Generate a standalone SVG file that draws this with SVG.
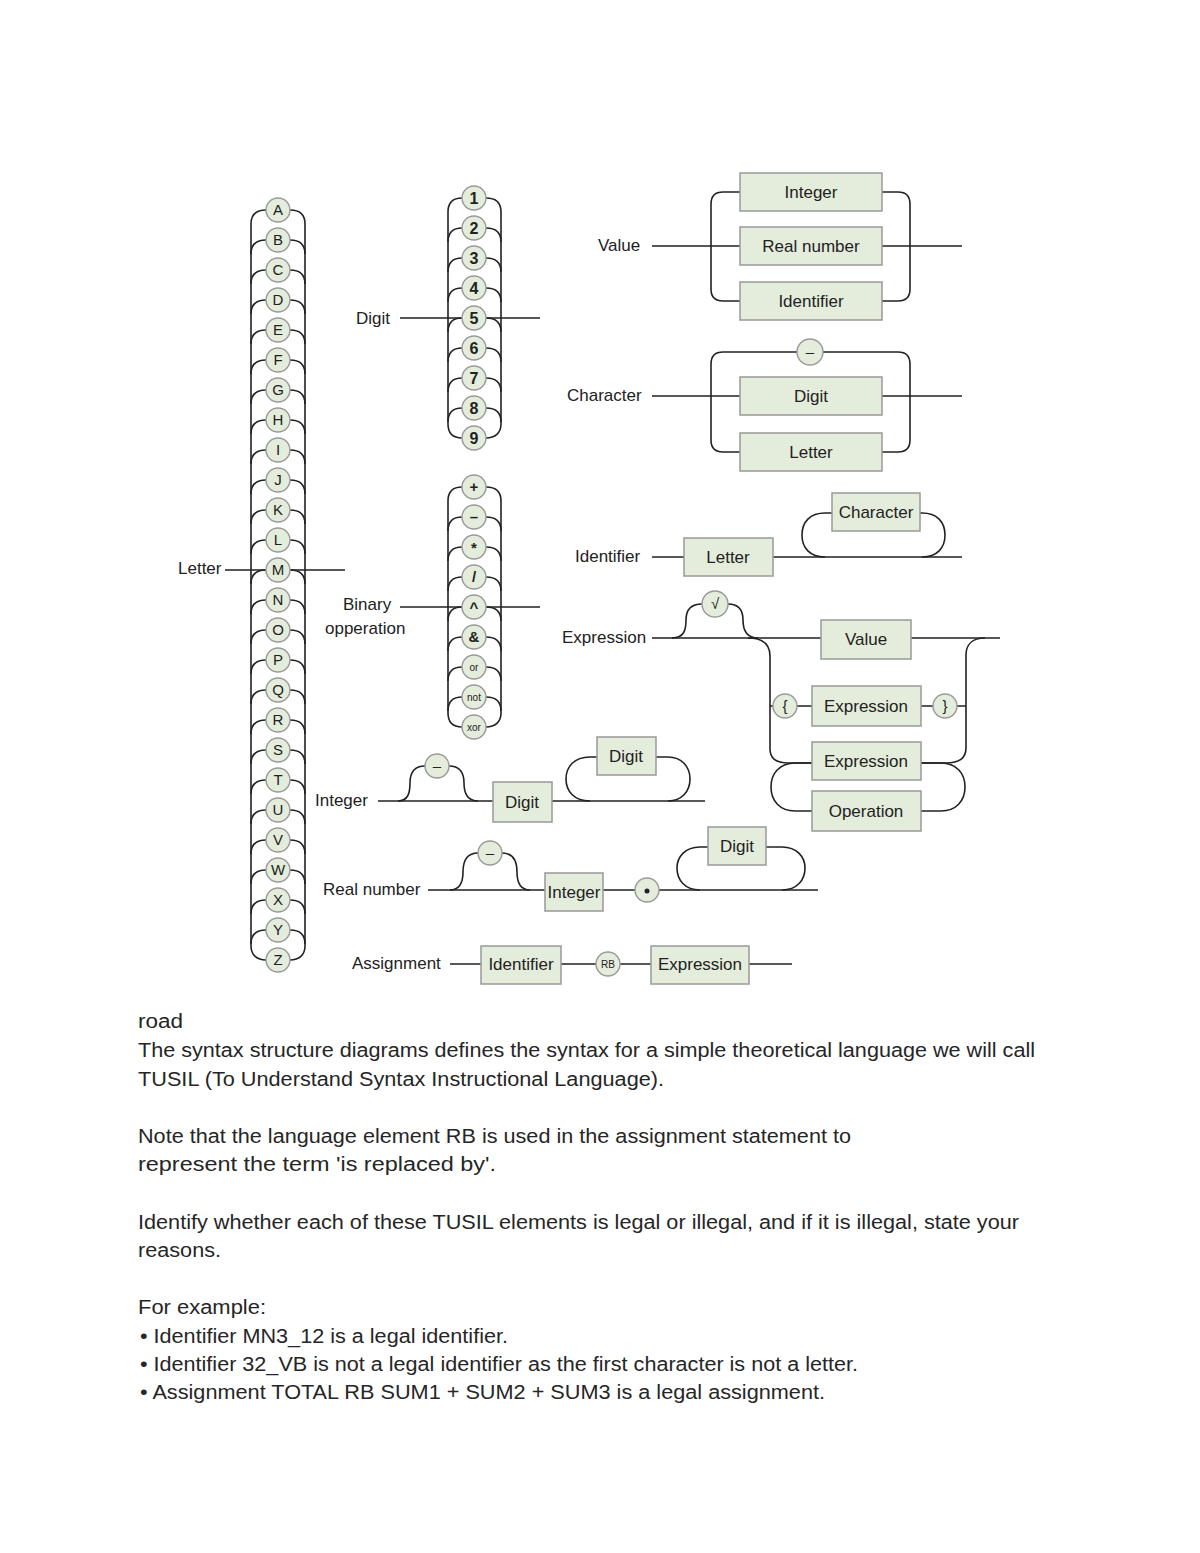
<svg xmlns="http://www.w3.org/2000/svg" width="1200" height="1553" viewBox="0 0 1200 1553">
<style>
.ln{fill:none;stroke:#222;stroke-width:1.6}
.bx{fill:#e4eddb;stroke:#999;stroke-width:1.5}
.ci{fill:#e4eddb;stroke:#999;stroke-width:1.4}
.lb{font-family:"Liberation Sans",Arial,sans-serif;font-size:17px;fill:#222}
.bt{font-family:"Liberation Sans",Arial,sans-serif;font-size:17px;fill:#222;text-anchor:middle}
.ct{font-family:"Liberation Sans",Arial,sans-serif;font-size:15px;fill:#222;text-anchor:middle}
.cs{font-family:"Liberation Sans",Arial,sans-serif;font-size:10px;fill:#222;text-anchor:middle}
.tx{font-family:"Liberation Sans",Arial,sans-serif;font-size:20px;fill:#262626}
</style>
<rect width="1200" height="1553" fill="#fff"/>

<!-- connectors -->
<g id="connectors">
  <!-- Letter -->
  <path class="ln" d="M251,224 V946 M305,224 V946 M225,570 H345"/>
  <path class="ln" d="M266,210 C257,210 251,214 251,224 M266,240 C257,240 251,244 251,254 M266,270 C257,270 251,274 251,284 M266,300 C257,300 251,304 251,314 M266,330 C257,330 251,334 251,344 M266,360 C257,360 251,364 251,374 M266,390 C257,390 251,394 251,404 M266,420 C257,420 251,424 251,434 M266,450 C257,450 251,454 251,464 M266,480 C257,480 251,484 251,494 M266,510 C257,510 251,514 251,524 M266,540 C257,540 251,544 251,554 M266,570 C257,570 251,574 251,584 M266,600 C257,600 251,604 251,614 M266,630 C257,630 251,634 251,644 M266,660 C257,660 251,664 251,674 M266,690 C257,690 251,694 251,704 M266,720 C257,720 251,724 251,734 M266,750 C257,750 251,754 251,764 M266,780 C257,780 251,784 251,794 M266,810 C257,810 251,814 251,824 M266,840 C257,840 251,844 251,854 M266,870 C257,870 251,874 251,884 M266,900 C257,900 251,904 251,914 M266,930 C257,930 251,934 251,944 M251,946 C251,955 257,960 266,960"/>
  <path class="ln" d="M290,210 C299,210 305,214 305,224 M290,240 C299,240 305,244 305,254 M290,270 C299,270 305,274 305,284 M290,300 C299,300 305,304 305,314 M290,330 C299,330 305,334 305,344 M290,360 C299,360 305,364 305,374 M290,390 C299,390 305,394 305,404 M290,420 C299,420 305,424 305,434 M290,450 C299,450 305,454 305,464 M290,480 C299,480 305,484 305,494 M290,510 C299,510 305,514 305,524 M290,540 C299,540 305,544 305,554 M290,570 C299,570 305,574 305,584 M290,600 C299,600 305,604 305,614 M290,630 C299,630 305,634 305,644 M290,660 C299,660 305,664 305,674 M290,690 C299,690 305,694 305,704 M290,720 C299,720 305,724 305,734 M290,750 C299,750 305,754 305,764 M290,780 C299,780 305,784 305,794 M290,810 C299,810 305,814 305,824 M290,840 C299,840 305,844 305,854 M290,870 C299,870 305,874 305,884 M290,900 C299,900 305,904 305,914 M290,930 C299,930 305,934 305,944 M305,946 C305,955 299,960 290,960"/>
  <!-- Digit -->
  <path class="ln" d="M448,212 V424 M501,212 V424 M400,318 H540"/>
  <path class="ln" d="M462,198 C453,198 448,202 448,212 M462,228 C453,228 448,232 448,242 M462,258 C453,258 448,262 448,272 M462,288 C453,288 448,292 448,302 M462,318 C453,318 448,322 448,332 M462,348 C453,348 448,352 448,362 M462,378 C453,378 448,382 448,392 M462,408 C453,408 448,412 448,422 M448,424 C448,433 453,438 462,438"/>
  <path class="ln" d="M486,198 C495,198 501,202 501,212 M486,228 C495,228 501,232 501,242 M486,258 C495,258 501,262 501,272 M486,288 C495,288 501,292 501,302 M486,318 C495,318 501,322 501,332 M486,348 C495,348 501,352 501,362 M486,378 C495,378 501,382 501,392 M486,408 C495,408 501,412 501,422 M501,424 C501,433 495,438 486,438"/>
  <!-- Binary operation -->
  <path class="ln" d="M448,501 V713 M501,501 V713 M400,607 H540"/>
  <path class="ln" d="M462,487 C453,487 448,491 448,501 M462,517 C453,517 448,521 448,531 M462,547 C453,547 448,551 448,561 M462,577 C453,577 448,581 448,591 M462,607 C453,607 448,611 448,621 M462,637 C453,637 448,641 448,651 M462,667 C453,667 448,671 448,681 M462,697 C453,697 448,701 448,711 M448,713 C448,722 453,727 462,727"/>
  <path class="ln" d="M486,487 C495,487 501,491 501,501 M486,517 C495,517 501,521 501,531 M486,547 C495,547 501,551 501,561 M486,577 C495,577 501,581 501,591 M486,607 C495,607 501,611 501,621 M486,637 C495,637 501,641 501,651 M486,667 C495,667 501,671 501,681 M486,697 C495,697 501,701 501,711 M501,713 C501,722 495,727 486,727"/>
  <!-- Value -->
  <path class="ln" d="M652,246 H740 M882,246 H962"/>
  <path class="ln" d="M740,192 H723 Q711,192 711,204 V289 Q711,301 723,301 H740 M882,192 H898 Q910,192 910,204 V289 Q910,301 898,301 H882"/>
  <!-- Character -->
  <path class="ln" d="M652,396 H740 M882,396 H962"/>
  <path class="ln" d="M740,452 H723 Q711,452 711,440 V364 Q711,352 723,352 H797 M823,352 H898 Q910,352 910,364 V440 Q910,452 898,452 H882"/>
  <!-- Identifier -->
  <path class="ln" d="M652,557 H684 M773,557 H962"/>
  <path class="ln" d="M832,513 H825 C810,513 802,522 802,535 C802,548 810,557 825,557 M920,513 H922 C937,513 945,522 945,535 C945,548 937,557 922,557"/>
  <!-- Expression -->
  <path class="ln" d="M652,638 H821 M911,638 H1000"/>
  <path class="ln" d="M672,638 C684,638 686,630 686,620 C686,609 692,604 702,604 M728,604 C738,604 743,609 743,620 C743,630 746,638 758,638"/>
  <path class="ln" d="M748,638 C763,638 770,644 770,656 V749 C770,758 776,763 788,763 H812"/>
  <path class="ln" d="M770,706 H773 M797,706 H812 M921,706 H933 M957,706 H966"/>
  <path class="ln" d="M921,763 H946 C960,763 966,757 966,748 V655 C966,645 972,638 985,638"/>
  <path class="ln" d="M812,763 H795 C780,763 771,773 771,787 C771,801 780,811 795,811 H812 M921,763 H941 C956,763 965,773 965,787 C965,801 956,811 941,811 H921"/>
  <!-- Integer -->
  <path class="ln" d="M378,801 H493 M552,801 H705"/>
  <path class="ln" d="M398,801 C408,801 410,793 410,783 C410,771 415,766 425,766 M449,766 C459,766 464,771 464,783 C464,793 467,801 478,801"/>
  <path class="ln" d="M597,757 H590 C574,757 566,767 566,779 C566,791 574,801 590,801 M656,757 H668 C682,757 690,767 690,779 C690,791 682,801 668,801"/>
  <!-- Real number -->
  <path class="ln" d="M428,890 H545 M603,890 H635 M659,890 H818"/>
  <path class="ln" d="M450,890 C460,890 463,882 463,872 C463,859 468,853 478,853 M502,853 C512,853 517,859 517,872 C517,882 520,890 530,890"/>
  <path class="ln" d="M708,847 H700 C685,847 677,857 677,868 C677,880 685,890 700,890 M766,847 H782 C797,847 805,857 805,868 C805,880 797,890 782,890"/>
  <!-- Assignment -->
  <path class="ln" d="M450,964 H481 M561,964 H596 M620,964 H651 M749,964 H792"/>
</g>

<!-- Letter node -->
<g id="letter">
  <text class="lb" x="178" y="574">Letter</text>
  <g class="ci">
    <circle cx="278" cy="210" r="12"/><circle cx="278" cy="240" r="12"/><circle cx="278" cy="270" r="12"/><circle cx="278" cy="300" r="12"/><circle cx="278" cy="330" r="12"/><circle cx="278" cy="360" r="12"/><circle cx="278" cy="390" r="12"/><circle cx="278" cy="420" r="12"/><circle cx="278" cy="450" r="12"/><circle cx="278" cy="480" r="12"/><circle cx="278" cy="510" r="12"/><circle cx="278" cy="540" r="12"/><circle cx="278" cy="570" r="12"/><circle cx="278" cy="600" r="12"/><circle cx="278" cy="630" r="12"/><circle cx="278" cy="660" r="12"/><circle cx="278" cy="690" r="12"/><circle cx="278" cy="720" r="12"/><circle cx="278" cy="750" r="12"/><circle cx="278" cy="780" r="12"/><circle cx="278" cy="810" r="12"/><circle cx="278" cy="840" r="12"/><circle cx="278" cy="870" r="12"/><circle cx="278" cy="900" r="12"/><circle cx="278" cy="930" r="12"/><circle cx="278" cy="960" r="12"/>
  </g>
  <g class="ct">
    <text x="278" y="215">A</text><text x="278" y="245">B</text><text x="278" y="275">C</text><text x="278" y="305">D</text><text x="278" y="335">E</text><text x="278" y="365">F</text><text x="278" y="395">G</text><text x="278" y="425">H</text><text x="278" y="455">I</text><text x="278" y="485">J</text><text x="278" y="515">K</text><text x="278" y="545">L</text><text x="278" y="575">M</text><text x="278" y="605">N</text><text x="278" y="635">O</text><text x="278" y="665">P</text><text x="278" y="695">Q</text><text x="278" y="725">R</text><text x="278" y="755">S</text><text x="278" y="785">T</text><text x="278" y="815">U</text><text x="278" y="845">V</text><text x="278" y="875">W</text><text x="278" y="905">X</text><text x="278" y="935">Y</text><text x="278" y="965">Z</text>
  </g>
</g>

<!-- Digit node -->
<g id="digit">
  <text class="lb" x="356" y="324">Digit</text>
  <g class="ci">
    <circle cx="474" cy="198" r="12"/><circle cx="474" cy="228" r="12"/><circle cx="474" cy="258" r="12"/><circle cx="474" cy="288" r="12"/><circle cx="474" cy="318" r="12"/><circle cx="474" cy="348" r="12"/><circle cx="474" cy="378" r="12"/><circle cx="474" cy="408" r="12"/><circle cx="474" cy="438" r="12"/>
  </g>
  <g class="ct" style="font-weight:bold;font-size:16px">
    <text x="474" y="204">1</text><text x="474" y="234">2</text><text x="474" y="264">3</text><text x="474" y="294">4</text><text x="474" y="324">5</text><text x="474" y="354">6</text><text x="474" y="384">7</text><text x="474" y="414">8</text><text x="474" y="444">9</text>
  </g>
</g>

<!-- Binary operation node -->
<g id="binary-operation">
  <text class="lb" x="343" y="610">Binary</text>
  <text class="lb" x="325" y="634">opperation</text>
  <g class="ci">
    <circle cx="474" cy="487" r="12"/><circle cx="474" cy="517" r="12"/><circle cx="474" cy="547" r="12"/><circle cx="474" cy="577" r="12"/><circle cx="474" cy="607" r="12"/><circle cx="474" cy="637" r="12"/><circle cx="474" cy="667" r="12"/><circle cx="474" cy="697" r="12"/><circle cx="474" cy="727" r="12"/>
  </g>
  <g class="ct" style="font-weight:bold">
    <text x="474" y="492">+</text><text x="474" y="522">–</text><text x="474" y="553">*</text><text x="474" y="582">/</text><text x="474" y="613">^</text><text x="474" y="642">&amp;</text>
  </g>
  <g class="cs">
    <text x="474" y="671">or</text><text x="474" y="701">not</text><text x="474" y="731">xor</text>
  </g>
</g>

<!-- Value node -->
<g id="value">
  <text class="lb" x="598" y="251">Value</text>
  <rect class="bx" x="740" y="173" width="142" height="38"/>
  <rect class="bx" x="740" y="227" width="142" height="38"/>
  <rect class="bx" x="740" y="282" width="142" height="38"/>
  <text class="bt" x="811" y="198">Integer</text>
  <text class="bt" x="811" y="252">Real number</text>
  <text class="bt" x="811" y="307">Identifier</text>
</g>

<!-- Character node -->
<g id="character">
  <text class="lb" x="567" y="401">Character</text>
  <circle class="ci" cx="810" cy="352" r="13"/>
  <text class="ct" x="810" y="357">–</text>
  <rect class="bx" x="740" y="377" width="142" height="38"/>
  <rect class="bx" x="740" y="433" width="142" height="38"/>
  <text class="bt" x="811" y="402">Digit</text>
  <text class="bt" x="811" y="458">Letter</text>
</g>

<!-- Identifier node -->
<g id="identifier">
  <text class="lb" x="575" y="562">Identifier</text>
  <rect class="bx" x="684" y="538" width="89" height="38"/>
  <text class="bt" x="728" y="563">Letter</text>
  <rect class="bx" x="832" y="493" width="88" height="38"/>
  <text class="bt" x="876" y="518">Character</text>
</g>

<!-- Expression node -->
<g id="expression">
  <text class="lb" x="562" y="643">Expression</text>
  <circle class="ci" cx="715" cy="604" r="13"/>
  <text class="ct" x="715" y="609">√</text>
  <rect class="bx" x="821" y="620" width="90" height="39"/>
  <text class="bt" x="866" y="645">Value</text>
  <circle class="ci" cx="785" cy="706" r="12"/>
  <text class="ct" x="785" y="711">{</text>
  <rect class="bx" x="812" y="686" width="109" height="40"/>
  <text class="bt" x="866" y="712">Expression</text>
  <circle class="ci" cx="945" cy="706" r="12"/>
  <text class="ct" x="945" y="711">}</text>
  <rect class="bx" x="812" y="742" width="109" height="38"/>
  <text class="bt" x="866" y="767">Expression</text>
  <rect class="bx" x="812" y="791" width="109" height="40"/>
  <text class="bt" x="866" y="817">Operation</text>
</g>

<!-- Integer node -->
<g id="integer">
  <text class="lb" x="315" y="806">Integer</text>
  <circle class="ci" cx="437" cy="766" r="12"/>
  <text class="ct" x="437" y="771">–</text>
  <rect class="bx" x="493" y="782" width="59" height="40"/>
  <text class="bt" x="522" y="808">Digit</text>
  <rect class="bx" x="597" y="737" width="59" height="38"/>
  <text class="bt" x="626" y="762">Digit</text>
</g>

<!-- Real number node -->
<g id="real-number">
  <text class="lb" x="323" y="895">Real number</text>
  <circle class="ci" cx="490" cy="853" r="12"/>
  <text class="ct" x="490" y="858">–</text>
  <rect class="bx" x="545" y="873" width="58" height="38"/>
  <text class="bt" x="574" y="898">Integer</text>
  <circle class="ci" cx="647" cy="890" r="12"/>
  <circle cx="647" cy="891" r="2.5" fill="#222"/>
  <rect class="bx" x="708" y="827" width="58" height="38"/>
  <text class="bt" x="737" y="852">Digit</text>
</g>

<!-- Assignment node -->
<g id="assignment">
  <text class="lb" x="352" y="969">Assignment</text>
  <rect class="bx" x="481" y="946" width="80" height="38"/>
  <text class="bt" x="521" y="970">Identifier</text>
  <circle class="ci" cx="608" cy="964" r="12"/>
  <text class="cs" x="608" y="968">RB</text>
  <rect class="bx" x="651" y="946" width="98" height="38"/>
  <text class="bt" x="700" y="970">Expression</text>
</g>

<!-- Body text -->
<g id="body-text">
  <text class="tx" x="138" y="1028" textLength="45" lengthAdjust="spacingAndGlyphs">road</text>
  <text class="tx" x="138" y="1057" textLength="897" lengthAdjust="spacingAndGlyphs">The syntax structure diagrams defines the syntax for a simple theoretical language we will call</text>
  <text class="tx" x="138" y="1086" textLength="526" lengthAdjust="spacingAndGlyphs">TUSIL (To Understand Syntax Instructional Language).</text>
  <text class="tx" x="138" y="1143" textLength="713" lengthAdjust="spacingAndGlyphs">Note that the language element RB is used in the assignment statement to</text>
  <text class="tx" x="138" y="1171" textLength="358" lengthAdjust="spacingAndGlyphs">represent the term 'is replaced by'.</text>
  <text class="tx" x="138" y="1229" textLength="881" lengthAdjust="spacingAndGlyphs">Identify whether each of these TUSIL elements is legal or illegal, and if it is illegal, state your</text>
  <text class="tx" x="138" y="1257" textLength="83" lengthAdjust="spacingAndGlyphs">reasons.</text>
  <text class="tx" x="138" y="1314" textLength="128" lengthAdjust="spacingAndGlyphs">For example:</text>
  <text class="tx" x="140" y="1343" textLength="368" lengthAdjust="spacingAndGlyphs">• Identifier MN3_12 is a legal identifier.</text>
  <text class="tx" x="140" y="1371" textLength="718" lengthAdjust="spacingAndGlyphs">• Identifier 32_VB is not a legal identifier as the first character is not a letter.</text>
  <text class="tx" x="140" y="1399" textLength="685" lengthAdjust="spacingAndGlyphs">• Assignment TOTAL RB SUM1 + SUM2 + SUM3 is a legal assignment.</text>
</g>
</svg>
